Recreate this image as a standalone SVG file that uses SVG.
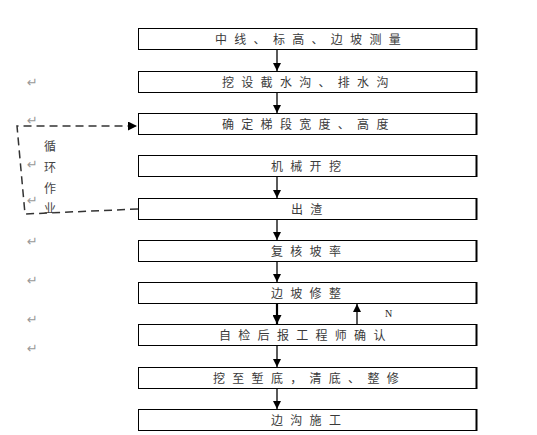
<svg xmlns="http://www.w3.org/2000/svg" width="537" height="435" viewBox="0 0 537 435">
<style>
.box rect{fill:#fff;stroke:#000;stroke-width:1}
.box line{stroke:#000;stroke-width:2}
.lbl{font-family:"Noto Sans CJK SC","Noto Sans CJK JP",sans-serif;font-size:12px;letter-spacing:7.3px;fill:#3a3a3a}
.arr{stroke:#000;stroke-width:1.3;fill:none}
.mark{font-family:"Noto Sans CJK SC","DejaVu Sans",sans-serif;font-size:13px;fill:#999}
.loop{font-family:"Noto Sans CJK SC",sans-serif;font-size:12px;fill:#444}
</style>
<defs>
<marker id="ah" viewBox="0 0 10 10" refX="10" refY="5" markerWidth="8" markerHeight="8" markerUnits="userSpaceOnUse" orient="auto"><path d="M0,0 L10,5 L0,10 z" fill="#000"/></marker>
<marker id="ahd" viewBox="0 0 10 10" refX="10" refY="5" markerWidth="9" markerHeight="9" markerUnits="userSpaceOnUse" orient="auto"><path d="M0,0 L10,5 L0,10 z" fill="#000"/></marker>
</defs>
<g id="n1" class="box"><rect x="138.5" y="28.5" width="338" height="21"/><line x1="476.5" y1="28" x2="476.5" y2="50"/><text class="lbl" x="215" y="43.5">中线、标高、边坡测量</text></g>
<g id="n2" class="box"><rect x="138.5" y="71.5" width="338" height="21"/><line x1="476.5" y1="71" x2="476.5" y2="93"/><text class="lbl" x="222" y="86.5">挖设截水沟、排水沟</text></g>
<g id="n3" class="box"><rect x="138.5" y="113.5" width="338" height="21"/><line x1="476.5" y1="113" x2="476.5" y2="135"/><text class="lbl" x="222" y="128.5">确定梯段宽度、高度</text></g>
<g id="n4" class="box"><rect x="138.5" y="155.5" width="338" height="21"/><line x1="476.5" y1="155" x2="476.5" y2="177"/><text class="lbl" x="271" y="170.5">机械开挖</text></g>
<g id="n5" class="box"><rect x="138.5" y="198.5" width="338" height="21"/><line x1="476.5" y1="198" x2="476.5" y2="220"/><text class="lbl" x="291" y="213.5">出渣</text></g>
<g id="n6" class="box"><rect x="138.5" y="240.5" width="338" height="21"/><line x1="476.5" y1="240" x2="476.5" y2="262"/><text class="lbl" x="271" y="255.5">复核坡率</text></g>
<g id="n7" class="box"><rect x="138.5" y="282.5" width="338" height="21"/><line x1="476.5" y1="282" x2="476.5" y2="304"/><text class="lbl" x="271" y="297.5">边坡修整</text></g>
<g id="n8" class="box"><rect x="138.5" y="324.5" width="338" height="21"/><line x1="476.5" y1="324" x2="476.5" y2="346"/><text class="lbl" x="219" y="339.5">自检后报工程师确认</text></g>
<g id="n9" class="box"><rect x="138.5" y="367.5" width="338" height="21"/><line x1="476.5" y1="367" x2="476.5" y2="389"/><text class="lbl" x="213" y="382.5">挖至堑底，清底、整修</text></g>
<g id="n10" class="box"><rect x="138.5" y="409.5" width="338" height="21"/><line x1="476.5" y1="409" x2="476.5" y2="431"/><text class="lbl" x="271" y="424.5">边沟施工</text></g>
<g id="connectors">
<line class="arr" x1="277" y1="50" x2="277" y2="71" marker-end="url(#ah)"/>
<line class="arr" x1="277" y1="93" x2="277" y2="113" marker-end="url(#ah)"/>
<line class="arr" x1="277" y1="177" x2="277" y2="198" marker-end="url(#ah)"/>
<line class="arr" x1="277" y1="220" x2="277" y2="240" marker-end="url(#ah)"/>
<line class="arr" x1="277" y1="262" x2="277" y2="282" marker-end="url(#ah)"/>
<line class="arr" style="stroke-width:2.2" x1="277" y1="304" x2="277" y2="324" marker-end="url(#ahd)"/>
<line class="arr" x1="357" y1="324" x2="357" y2="304" marker-end="url(#ah)"/>
<line class="arr" x1="277" y1="346" x2="277" y2="367" marker-end="url(#ah)"/>
<line class="arr" x1="277" y1="389" x2="277" y2="409" marker-end="url(#ah)"/>
<path d="M138,209 L25,214 L17,126 L137,126" fill="none" stroke="#333" stroke-width="1.5" stroke-dasharray="8,5" marker-end="url(#ahd)"/>
<text x="385" y="317" font-family="Liberation Serif,serif" font-size="10" fill="#222">N</text>
</g>
<g id="loop-label" class="loop">
<text x="44" y="151">循</text>
<text x="44" y="172">环</text>
<text x="44" y="193">作</text>
<text x="44" y="213">业</text>
</g>
<g id="marks" class="mark">
<text x="27" y="87">↵</text>
<text x="27" y="125">↵</text>
<text x="27" y="169">↵</text>
<text x="27" y="205">↵</text>
<text x="27" y="246">↵</text>
<text x="27" y="285">↵</text>
<text x="27" y="324">↵</text>
<text x="27" y="353">↵</text>
</g>
</svg>
